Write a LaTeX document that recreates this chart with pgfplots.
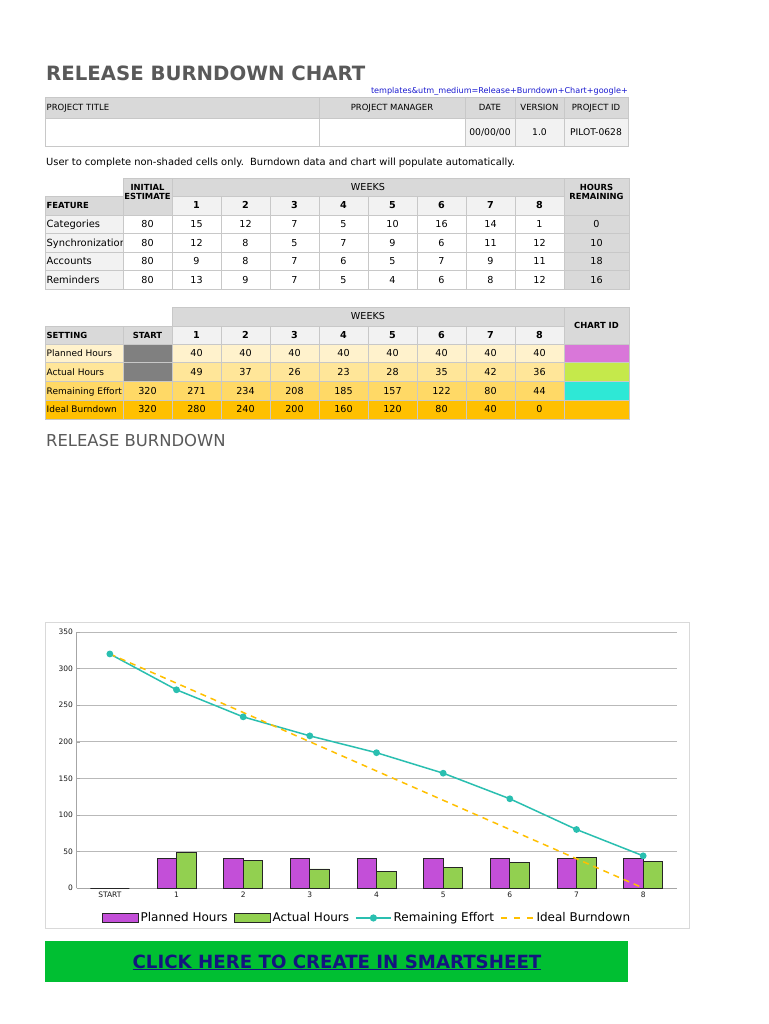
\documentclass[border=0pt]{standalone}
\usepackage{fontspec}
\setmainfont{DejaVu Sans}
\usepackage{pgfplots}
\pgfplotsset{compat=1.18}
\definecolor{hdr}{HTML}{D9D9D9}
\definecolor{lt}{HTML}{F2F2F2}
\definecolor{bd}{HTML}{C8C8C8}
\definecolor{ttl}{HTML}{595959}
\definecolor{rowA}{HTML}{FFF2CC}
\definecolor{rowB}{HTML}{FFE699}
\definecolor{rowC}{HTML}{FFD966}
\definecolor{rowD}{HTML}{FFC000}
\definecolor{darkc}{HTML}{808080}
\definecolor{idA}{HTML}{D977D9}
\definecolor{idB}{HTML}{C5E94B}
\definecolor{idC}{HTML}{2EE8D6}
\definecolor{plan}{HTML}{C34FD8}
\definecolor{act}{HTML}{92D050}
\definecolor{rem}{HTML}{2ABFB0}
\definecolor{ideal}{HTML}{FFC000}
\definecolor{btn}{HTML}{00BF32}
\definecolor{navy}{HTML}{14147F}
\definecolor{lnk}{HTML}{1A1AD0}
\newcommand\fs[1]{\fontsize{#1}{#1}\selectfont}
\newcommand\cc[6]{\fill[#5] ({#1},{#2}) rectangle ({#3},{#4}); \draw[bd,line width=0.8pt] ({#1},{#2}) rectangle ({#3},{#4});
  \node[inner sep=0pt,align=center,text height=1.4ex,text depth=0.2ex] at ({(#1+#3)/2},{(#2+#4)/2}) {#6};}
\newcommand\cl[6]{\fill[#5] ({#1},{#2}) rectangle ({#3},{#4}); \draw[bd,line width=0.8pt] ({#1},{#2}) rectangle ({#3},{#4});
  \node[inner sep=0pt,anchor=west,text height=1.4ex,text depth=0.2ex] at ({#1+1.5},{(#2+#4)/2}) {#6};}
\newcommand\tl[1]{\mbox{\fs{7.5}#1}}
\begin{document}
\begin{tikzpicture}
\useasboundingbox (0pt,0pt) rectangle (768pt,-1024pt);
\fill[white] (0pt,0pt) rectangle (768pt,-1024pt);
\begin{scope}[x=1pt,y=-1pt]
% title
\node[anchor=base west,inner sep=0pt,text=ttl,font=\fs{19.7}\bfseries] at (46,81) {RELEASE BURNDOWN CHART};
\node[anchor=base east,inner sep=0pt,text=lnk,font=\fs{8.1}] at (628,94) {\underline{templates\&utm\_medium=Release+Burndown+Chart+google+}};
% table 1
\begin{scope}[font=\fs{8.5}]
\cl{45}{97}{319}{118}{hdr}{PROJECT TITLE}
\cc{319}{97}{465}{118}{hdr}{PROJECT MANAGER}
\cc{465}{97}{515}{118}{hdr}{DATE}
\cc{515}{97}{564}{118}{hdr}{VERSION}
\cc{564}{97}{628}{118}{hdr}{PROJECT ID}
\end{scope}
\begin{scope}[font=\fs{9.2}]
\cc{45}{118}{319}{146}{white}{}
\cc{319}{118}{465}{146}{white}{}
\cc{465}{118}{515}{146}{lt}{00/00/00}
\cc{515}{118}{564}{146}{lt}{1.0}
\cc{564}{118}{628}{146}{lt}{PILOT-0628}
\end{scope}
\node[anchor=base west,inner sep=0pt,font=\fs{9.9}] at (46,166) {User to complete non-shaded cells only.\ \ Burndown data and chart will populate automatically.};
% table 2
\begin{scope}[font=\fs{9.6}]
\cc{172}{178}{564}{196}{hdr}{WEEKS}
\cc{123}{178}{172}{215}{hdr}{\fs{8.4}\bfseries INITIAL\\[-0.5pt]\fs{8.4}\bfseries ESTIMATE}
\cc{564}{178}{629}{215}{hdr}{\fs{8.4}\bfseries HOURS\\[-0.5pt]\fs{8.4}\bfseries REMAINING}
\cl{45}{196}{123}{215}{hdr}{\fs{8.4}\bfseries FEATURE}
\foreach \k in {1,...,8}{\cc{172+49*(\k-1)}{196}{172+49*\k}{215}{lt}{\bfseries\k}}
\foreach \name/\y/\a/\b/\c/\d/\e/\f/\g/\h/\r in {
 Categories/215/15/12/7/5/10/16/14/1/0,
 Synchronization/233.5/12/8/5/7/9/6/11/12/10,
 Accounts/252/9/8/7/6/5/7/9/11/18,
 Reminders/270.5/13/9/7/5/4/6/8/12/16}{
 \cl{45}{\y}{123}{\y+18.5}{lt}{\fs{9.9}\name}
 \cc{123}{\y}{172}{\y+18.5}{white}{80}
 \cc{172}{\y}{221}{\y+18.5}{white}{\a}
 \cc{221}{\y}{270}{\y+18.5}{white}{\b}
 \cc{270}{\y}{319}{\y+18.5}{white}{\c}
 \cc{319}{\y}{368}{\y+18.5}{white}{\d}
 \cc{368}{\y}{417}{\y+18.5}{white}{\e}
 \cc{417}{\y}{466}{\y+18.5}{white}{\f}
 \cc{466}{\y}{515}{\y+18.5}{white}{\g}
 \cc{515}{\y}{564}{\y+18.5}{white}{\h}
 \cc{564}{\y}{629}{\y+18.5}{hdr}{\r}
}
\end{scope}
% table 3
\begin{scope}[font=\fs{9.6}]
\cc{172}{307}{564}{326}{hdr}{WEEKS}
\cc{564}{307}{629}{344}{hdr}{\fs{8.4}\bfseries CHART ID}
\cl{45}{326}{123}{344}{hdr}{\fs{8.4}\bfseries SETTING}
\cc{123}{326}{172}{344}{hdr}{\fs{8.4}\bfseries START}
\foreach \k in {1,...,8}{\cc{172+49*(\k-1)}{326}{172+49*\k}{344}{lt}{\bfseries\k}}
\foreach \name/\y/\col/\s/\scol/\idc/\a/\b/\c/\d/\e/\f/\g/\h in {
 Planned Hours/344/rowA//darkc/idA/40/40/40/40/40/40/40/40,
 Actual Hours/362.75/rowB//darkc/idB/49/37/26/23/28/35/42/36,
 Remaining Effort/381.5/rowC/320/rowC/idC/271/234/208/185/157/122/80/44,
 Ideal Burndown/400.25/rowD/320/rowD/rowD/280/240/200/160/120/80/40/0}{
 \cl{45}{\y}{123}{\y+18.75}{\col}{\fs{9}\name}
 \cc{123}{\y}{172}{\y+18.75}{\scol}{\s}
 \cc{172}{\y}{221}{\y+18.75}{\col}{\a}
 \cc{221}{\y}{270}{\y+18.75}{\col}{\b}
 \cc{270}{\y}{319}{\y+18.75}{\col}{\c}
 \cc{319}{\y}{368}{\y+18.75}{\col}{\d}
 \cc{368}{\y}{417}{\y+18.75}{\col}{\e}
 \cc{417}{\y}{466}{\y+18.75}{\col}{\f}
 \cc{466}{\y}{515}{\y+18.75}{\col}{\g}
 \cc{515}{\y}{564}{\y+18.75}{\col}{\h}
 \cc{564}{\y}{629}{\y+18.75}{\idc}{}
}
\end{scope}
\node[anchor=base west,inner sep=0pt,text=ttl,font=\fs{16.4}] at (46,446) {RELEASE BURNDOWN};
% chart frame
\draw[hdr,line width=0.8pt] (45,622) rectangle (689,928);
% button
\fill[btn] (45,941) rectangle (628,982);
\node[anchor=base,inner sep=0pt,text=navy,font=\fs{18.2}\bfseries] at (337,968) {\underline{CLICK HERE TO CREATE IN SMARTSHEET}};
\end{scope}
\begin{axis}[
  at={(76.5pt,-888pt)}, anchor=south west,
  scale only axis, width=600pt, height=256pt,
  xmin=-0.5, xmax=8.5, ymin=0, ymax=350,
  xtick={0,...,8}, xticklabels={\tl{START},\tl{1},\tl{2},\tl{3},\tl{4},\tl{5},\tl{6},\tl{7},\tl{8}},
  ytick={0,50,...,350},
  /pgf/number format/assume math mode=true,
  axis x line*=bottom, axis y line*=left,
  axis line style={draw=gray!70,-},
  ymajorgrids, grid style={draw=gray!55, line width=0.6pt},
  major x tick style={draw=none},
  major y tick style={draw=gray!70}, major tick length=3pt,
  tick label style={font=\fs{7.5}, text=black!90},
  clip=false,
  legend style={at={(0.484,-0.117)}, anchor=center, draw=none, fill=none,
     legend columns=-1, font=\fs{12},
     /tikz/every even column/.append style={column sep=4pt},
     nodes={inner sep=2pt}},
]
\addplot[ybar, bar width=19.5pt, bar shift=-9.75pt, fill=plan, draw=black!85, line width=0.9pt,
  legend image code/.code={\draw[fill=plan,draw=black!85,line width=0.9pt] (0pt,-4.5pt) rectangle (36pt,4.5pt);}]
  coordinates {(0,0) (1,40) (2,40) (3,40) (4,40) (5,40) (6,40) (7,40) (8,40)};
\addlegendentry{Planned Hours}
\addplot[ybar, bar width=19.5pt, bar shift=9.75pt, fill=act, draw=black!85, line width=0.9pt,
  legend image code/.code={\draw[fill=act,draw=black!85,line width=0.9pt] (0pt,-4.5pt) rectangle (36pt,4.5pt);}]
  coordinates {(0,0) (1,49) (2,37) (3,26) (4,23) (5,28) (6,35) (7,42) (8,36)};
\addlegendentry{Actual Hours}
\addplot[rem, line width=1.5pt, mark=*, mark size=2.6pt, mark options={fill=rem, draw=rem},
  legend image code/.code={\draw[rem,line width=1.5pt] (0pt,0pt) -- (35pt,0pt); \fill[rem] (17.5pt,0pt) circle (2.8pt);}]
  coordinates {(0,320) (1,271) (2,234) (3,208) (4,185) (5,157) (6,122) (7,80) (8,44)};
\addlegendentry{Remaining Effort}
\addplot[ideal, line width=1.5pt, dash pattern=on 6pt off 5pt,
  legend image code/.code={\draw[ideal,line width=1.5pt,dash pattern=on 6pt off 7pt] (0pt,0pt) -- (33pt,0pt);}]
  coordinates {(0,320) (1,280) (2,240) (3,200) (4,160) (5,120) (6,80) (7,40) (8,0)};
\addlegendentry{Ideal Burndown}
\end{axis}
\end{tikzpicture}
\end{document}
